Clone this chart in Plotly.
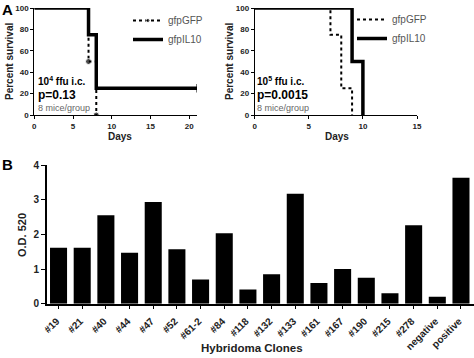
import plotly.graph_objects as go

# ---- data ----
# Panel A left (10^4 ffu)
left_gfp_days = [0, 7, 8]
left_gfp_surv = [100, 50, 0]
left_il10_days = [0, 7, 8, 21]
left_il10_surv = [100, 75, 25, 25]
# Panel A right (10^5 ffu)
right_gfp_days = [0, 7, 8, 9]
right_gfp_surv = [100, 75, 25, 0]
right_il10_days = [0, 9, 10]
right_il10_surv = [100, 50, 0]
# Panel B
clones = ["#19", "#21", "#40", "#44", "#47", "#52", "#61-2", "#84", "#118", "#132",
          "#133", "#161", "#167", "#190", "#215", "#278", "negative", "positive"]
od520 = [1.61, 1.61, 2.55, 1.47, 2.93, 1.57, 0.70, 2.03, 0.41, 0.85,
         3.17, 0.60, 1.00, 0.75, 0.30, 2.26, 0.20, 3.63]

W, H = 474, 358
def px(x): return x / W
def py(y): return 1 - y / H

FONT = "Liberation Sans, Arial, sans-serif"
fig = go.Figure()

# Left survival
fig.add_trace(go.Scatter(x=left_gfp_days, y=left_gfp_surv, mode="lines+markers", line_shape="hv",
                         line=dict(color="black", width=2, dash="dot"),
                         marker=dict(size=[0, 6, 6], color="black"),
                         name="gfpGFP", legend="legend", xaxis="x", yaxis="y"))
fig.add_trace(go.Scatter(x=left_il10_days, y=left_il10_surv, mode="lines+markers", line_shape="hv",
                         line=dict(color="black", width=3.5),
                         marker=dict(symbol="line-ns", size=[0, 0, 0, 6], line=dict(width=1.5, color="black")),
                         name="gfpIL10", legend="legend", xaxis="x", yaxis="y"))
# Right survival
fig.add_trace(go.Scatter(x=right_gfp_days, y=right_gfp_surv, mode="lines", line_shape="hv",
                         line=dict(color="black", width=2, dash="dot"),
                         name="gfpGFP", legend="legend2", xaxis="x2", yaxis="y2"))
fig.add_trace(go.Scatter(x=right_il10_days, y=right_il10_surv, mode="lines", line_shape="hv",
                         line=dict(color="black", width=3.5),
                         name="gfpIL10", legend="legend2", xaxis="x2", yaxis="y2"))
# Bars
fig.add_trace(go.Bar(x=clones, y=od520, marker=dict(color="black", line=dict(width=0)),
                     showlegend=False, xaxis="x3", yaxis="y3"))

ax_common = dict(showline=True, linecolor="black", linewidth=1, ticks="outside", ticklen=3,
                 tickcolor="black", showgrid=False, zeroline=False, automargin=False,
                 tickfont=dict(family=FONT, size=8, color="#222", weight="bold"))

fig.update_layout(
    width=W, height=H, margin=dict(l=0, r=0, t=0, b=0, autoexpand=False),
    plot_bgcolor="white", paper_bgcolor="white",
    font=dict(family=FONT, color="black"),
    bargap=0.28,
    xaxis=dict(domain=[px(34.3), px(197)], range=[0, 21], tickvals=[0, 5, 10, 15, 20],
               anchor="y", **ax_common),
    yaxis=dict(domain=[py(115), py(8)], range=[0, 100], tickvals=[0, 20, 40, 60, 80, 100],
               anchor="x", **ax_common),
    xaxis2=dict(domain=[px(254.7), px(417)], range=[0, 15], tickvals=[0, 5, 10, 15],
                anchor="y2", **ax_common),
    yaxis2=dict(domain=[py(115), py(8)], range=[0, 100], tickvals=[0, 20, 40, 60, 80, 100],
                anchor="x2", **ax_common),
    xaxis3=dict(domain=[px(46.7), 1.0], range=[-0.5, 17.55], anchor="y3", tickangle=-45,
                tickvals=clones, ticktext=[c + "\u00a0" for c in clones], automargin=False,
                showline=True, linecolor="black", linewidth=1.5, ticks="outside", ticklen=4,
                tickcolor="black", showgrid=False, zeroline=False,
                tickfont=dict(family=FONT, size=10, color="#222", weight="bold")),
    yaxis3=dict(domain=[py(303.7), py(165)], range=[0, 4], tickvals=[0, 1, 2, 3, 4], anchor="x3",
                automargin=False,
                showline=True, linecolor="black", linewidth=1.5, ticks="outside", ticklen=4,
                tickcolor="black", showgrid=False, zeroline=False,
                tickfont=dict(family=FONT, size=10, color="#222", weight="bold")),
    legend=dict(x=px(128), y=py(6), xanchor="left", yanchor="top", bgcolor="rgba(0,0,0,0)",
                font=dict(family=FONT, size=10, color="#555"), itemwidth=30, tracegroupgap=0),
    legend2=dict(x=px(352), y=py(5), xanchor="left", yanchor="top", bgcolor="rgba(0,0,0,0)",
                 font=dict(family=FONT, size=10, color="#555"), itemwidth=30, tracegroupgap=0),
)

ann = []
def txt(x, y, t, size=10, color="black", angle=0, xanchor="center"):
    ann.append(dict(x=px(x), y=py(y), xref="paper", yref="paper", text=t, showarrow=False,
                    font=dict(family=FONT, size=size, color=color), textangle=angle,
                    xanchor=xanchor, yanchor="middle"))

txt(7, 9, "<b>A</b>", size=15)
txt(7, 164, "<b>B</b>", size=15)
txt(10, 62, "<b>Percent survival</b>", size=10, color="#222", angle=-90)
txt(230, 62, "<b>Percent survival</b>", size=10, color="#222", angle=-90)
txt(120, 136, "<b>Days</b>", size=10, color="#222")
txt(337, 136, "<b>Days</b>", size=10, color="#222")
txt(36, 81, "<b>10<sup>4</sup> ffu i.c.</b>", size=10, xanchor="left")
txt(36, 95, "<b>p=0.13</b>", size=12, xanchor="left")
txt(36, 108, "8 mice/group", size=9, color="#666", xanchor="left")
txt(255, 81, "<b>10<sup>5</sup> ffu i.c.</b>", size=10, xanchor="left")
txt(255, 95, "<b>p=0.0015</b>", size=12, xanchor="left")
txt(255, 108, "8 mice/group", size=9, color="#666", xanchor="left")
txt(22, 235, "<b>O.D. 520</b>", size=11, color="#222", angle=-90)
txt(252, 348, "<b>Hybridoma Clones</b>", size=11.5, color="#222")
fig.update_layout(annotations=ann)

fig.write_html("out.html", config={"displayModeBar": False},
               post_script="document.body.style.margin='0';document.body.style.overflow='hidden';")
